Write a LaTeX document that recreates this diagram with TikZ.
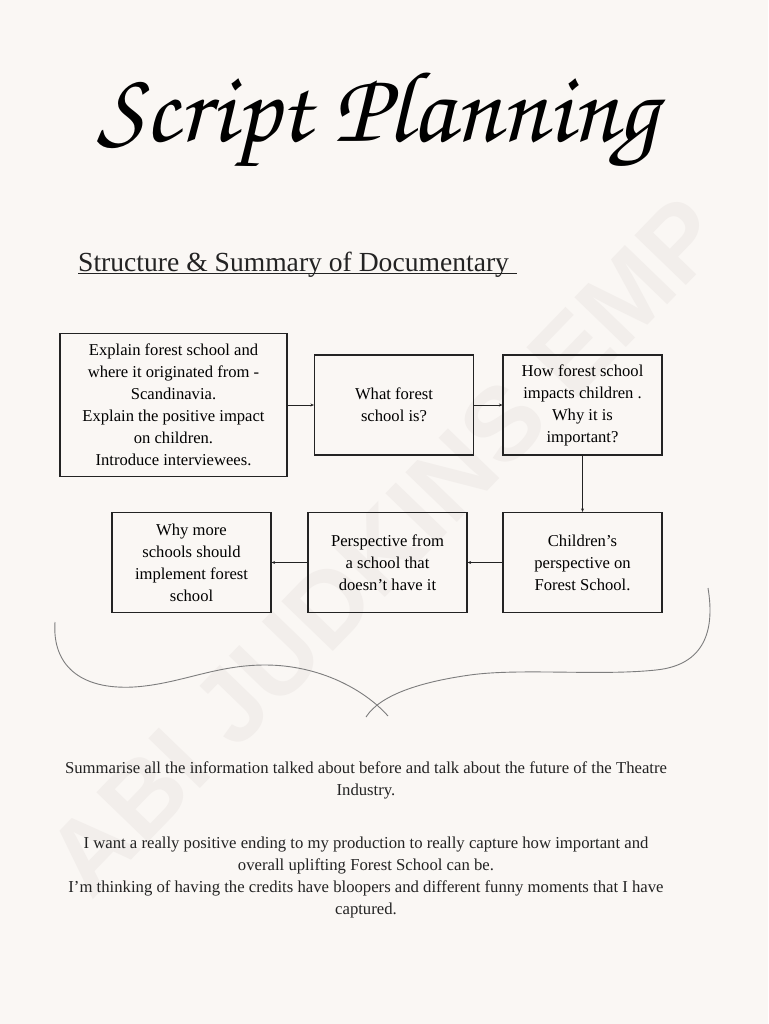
\documentclass[tikz,border=0pt]{standalone}
\usepackage{fontspec}
\setmainfont{Liberation Serif}
\newfontfamily\titlefont{texgyrechorus-mediumitalic.otf}
\newfontfamily\markfont{Liberation Sans}[BoldFont={Liberation Sans Bold}]
\usetikzlibrary{arrows.meta}
\definecolor{paper}{RGB}{250,247,244}
\definecolor{ink}{RGB}{35,35,35}
\definecolor{mark}{RGB}{242,238,235}
\definecolor{brace}{RGB}{125,125,125}

\begin{document}
\begin{tikzpicture}[x=1pt, y=-1pt,
  box/.style={draw=ink, line width=1.2pt, align=center, inner sep=0pt, minimum width=159pt, minimum height=100pt, font=\fontsize{16.6}{22}\selectfont},
  note/.style={align=center, text=ink, font=\fontsize{16.7}{22}\selectfont},
  >={Stealth[length=3.5pt, width=3pt]}]
\fill[paper] (0,0) rectangle (768,1024);
\useasboundingbox (0,0) rectangle (768,1024);
\node[rotate=46, text=mark, font=\markfont\bfseries\fontsize{104}{108}\selectfont] (wm) at (385,546) {ABI JUDKINS EMP};
\node[anchor=base, font=\titlefont\fontsize{101}{105}\selectfont] (title) at (378,142) {Script Planning};
\node[anchor=base west, inner sep=0pt, text=ink, font=\fontsize{27.6}{30}\selectfont] (heading) at (78,271) {Structure \& Summary of Documentary};
\draw[ink, line width=1pt] ([yshift=-2.5pt]heading.base west) -- ++(439,0);
\node[box, minimum width=227pt, minimum height=143pt, line width=1.8pt] (intro) at (173.5,405) {Explain forest school and\\where it originated from -\\Scandinavia.\\Explain the positive impact\\on children.\\Introduce interviewees.};
\node[box] (what) at (394,405) {What forest\\school is?};
\node[box] (how) at (582.5,405) {How forest school\\impacts children .\\Why it is\\important?};
\node[box] (kids) at (582.5,562.5) {Children’s\\perspective on\\Forest School.};
\node[box] (noschool) at (387.5,562.5) {Perspective from\\a school that\\doesn’t have it};
\node[box] (why) at (191.5,562.5) {Why more\\schools should\\implement forest\\school};
\foreach \a/\b in {intro/what, what/how, how/kids, kids/noschool, noschool/why}
  \draw[->, ink, line width=0.9pt] (\a) -- (\b);
% hand drawn brace
\draw[brace, line width=0.9pt] (55,622) .. controls (52,665) and (80,690) .. (134,687) .. controls (180,684) and (215,665) .. (265,665) .. controls (320,665) and (365,690) .. (388,716);
\draw[brace, line width=0.9pt] (708,588) .. controls (715,630) and (705,665) .. (656,670) .. controls (600,676) and (520,668) .. (470,675) .. controls (420,682) and (380,695) .. (366,717);
\node[note] (summary) at (366,780) {Summarise all the information talked about before and talk about the future of the Theatre\\Industry.};
\node[note] (ending) at (366,877) {I want a really positive ending to my production to really capture how important and\\overall uplifting Forest School can be.\\I’m thinking of having the credits have bloopers and different funny moments that I have\\captured.};
\end{tikzpicture}
\end{document}
